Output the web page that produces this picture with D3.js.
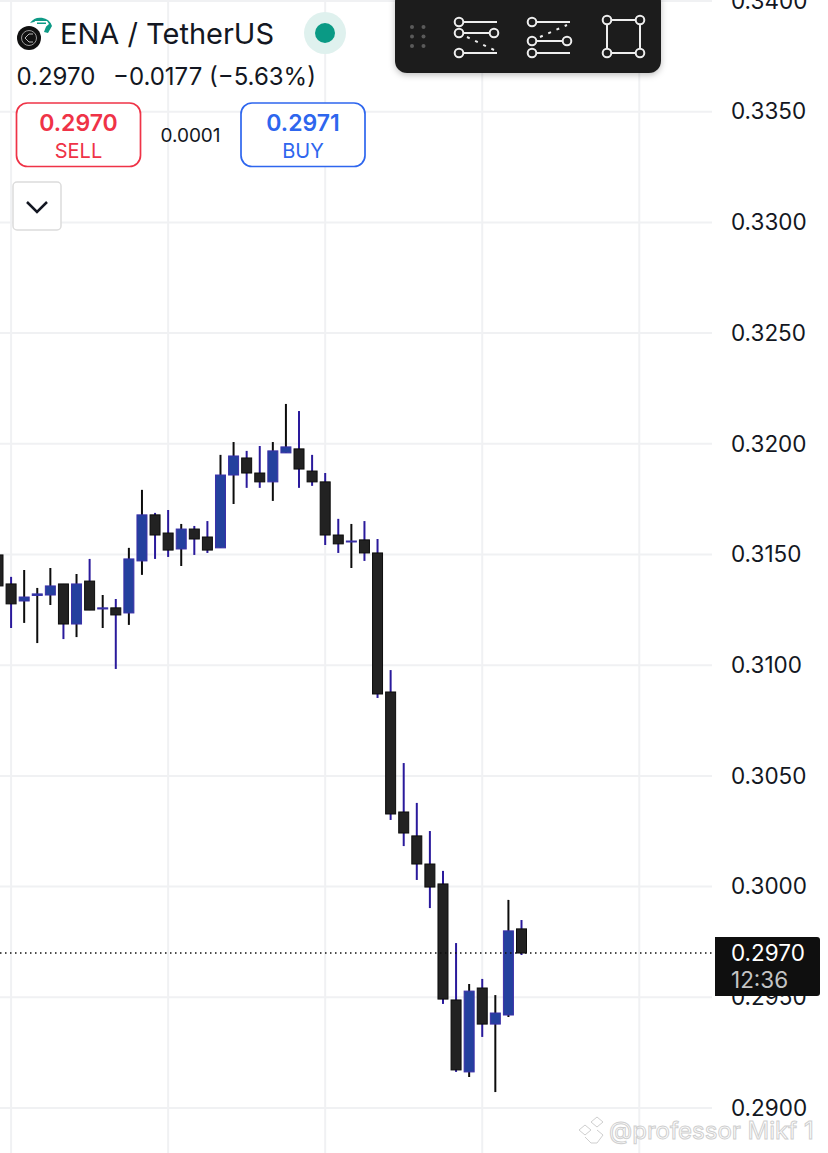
<!DOCTYPE html>
<html>
<head>
<meta charset="utf-8">
<title>ENA / TetherUS</title>
<script src="https://cdnjs.cloudflare.com/ajax/libs/d3/7.8.5/d3.min.js"></script>
<style>
html, body { margin: 0; padding: 0; background: #fff; }
svg { display: block; font-family: Inter, "Noto Sans", sans-serif; }
</style>
</head>
<body>
<div id="chart"></div>
<script>
// candle values
const opens = [0.31498,0.31367,0.31290,0.31315,0.31317,0.31367,0.31186,0.31380,0.31254,0.31259,0.31236,0.31471,0.31679,0.31597,0.31525,0.31615,0.31579,0.31530,0.31859,0.31936,0.31868,0.31828,0.31959,0.31977,0.31877,0.31828,0.31588,0.31557,0.31566,0.31507,0.30879,0.30337,0.30229,0.30102,0.30012,0.29488,0.29163,0.29542,0.29379,0.29420,0.29809];
const highs = [0.31498,0.31399,0.31430,0.31349,0.31439,0.31367,0.31412,0.31480,0.31317,0.31299,0.31530,0.31792,0.31688,0.31701,0.31638,0.31629,0.31651,0.31950,0.32008,0.31968,0.31990,0.32008,0.32180,0.32148,0.31950,0.31868,0.31661,0.31638,0.31651,0.31570,0.30978,0.30558,0.30378,0.30251,0.30071,0.29745,0.29560,0.29583,0.29510,0.29940,0.29849];
const lows = [0.31358,0.31168,0.31191,0.31100,0.31272,0.31118,0.31127,0.31249,0.31168,0.30983,0.31182,0.31408,0.31480,0.31489,0.31448,0.31498,0.31507,0.31530,0.31728,0.31801,0.31801,0.31742,0.31959,0.31801,0.31810,0.31543,0.31507,0.31439,0.31471,0.30852,0.30301,0.30183,0.30030,0.29903,0.29470,0.29163,0.29140,0.29321,0.29072,0.29411,0.29691];
const closes = [0.31358,0.31277,0.31308,0.31322,0.31358,0.31186,0.31367,0.31249,0.31259,0.31227,0.31480,0.31679,0.31588,0.31520,0.31615,0.31570,0.31520,0.31859,0.31945,0.31868,0.31828,0.31968,0.31986,0.31886,0.31828,0.31588,0.31548,0.31561,0.31507,0.30870,0.30328,0.30242,0.30102,0.29998,0.29492,0.29172,0.29528,0.29379,0.29429,0.29800,0.29700];

const priceTicks = [0.34,0.335,0.33,0.325,0.32,0.315,0.31,0.305,0.30,0.295,0.29];
const gridCandles = [1,13,25,37,49];
const lastPrice = 0.2970;

const W = 828, H = 1153, plotRight = 712;

const x = d3.scaleLinear().domain([0, 40]).range([-2, 521.5]);
const y = d3.scaleLinear().domain([0.29, 0.34]).range([1108, 1]);

const svg = d3.select("#chart").append("svg").attr("width", W).attr("height", H);

const defs = svg.append("defs");
const shadow = defs.append("filter").attr("id", "shadow").attr("x", "-10%").attr("y", "-20%").attr("width", "120%").attr("height", "150%");
shadow.append("feDropShadow").attr("dx", 0).attr("dy", 2).attr("stdDeviation", 3).attr("flood-color", "#000").attr("flood-opacity", 0.25);

// grid
svg.append("g").selectAll("line").data(priceTicks).enter().append("line")
	.attr("x1", 0).attr("x2", plotRight)
	.attr("y1", d => y(d)).attr("y2", d => y(d))
	.attr("stroke", "#f0f1f3").attr("stroke-width", 2);
svg.append("g").selectAll("line").data(gridCandles).enter().append("line")
	.attr("x1", d => x(d)).attr("x2", d => x(d))
	.attr("y1", 0).attr("y2", H)
	.attr("stroke", "#f0f1f3").attr("stroke-width", 2);

// price axis on the right
const yAxis = d3.axisRight(y).tickValues(priceTicks).tickFormat(d3.format(".4f")).tickSize(0).tickPadding(0);
const axisG = svg.append("g").attr("transform", "translate(731,0)").call(yAxis);
axisG.select(".domain").remove();
axisG.selectAll("text").attr("font-size", 22.5).attr("font-family", "Inter").attr("fill", "#131722");

// candles
const idx = d3.range(opens.length);
const isUp = i => closes[i] >= opens[i];
const candles = svg.append("g");
candles.selectAll("line").data(idx).enter().append("line")
	.attr("x1", i => x(i)).attr("x2", i => x(i))
	.attr("y1", i => y(highs[i])).attr("y2", i => y(lows[i]))
	.attr("stroke", i => isUp(i) ? "#0c0c0c" : "#2a1a9c")
	.attr("stroke-width", 2);
candles.selectAll("rect").data(idx).enter().append("rect")
	.attr("x", i => x(i) - 5)
	.attr("width", 10)
	.attr("y", i => y(Math.max(opens[i], closes[i])))
	.attr("height", i => Math.max(1, Math.abs(y(opens[i]) - y(closes[i]))))
	.attr("fill", i => isUp(i) ? "#24409e" : "#222222")
	.attr("stroke", i => isUp(i) ? "#3a2fa8" : "#0c0c0c")
	.attr("stroke-width", 1);

// last price line + tag
svg.append("line")
	.attr("x1", 0).attr("x2", 716)
	.attr("y1", y(lastPrice)).attr("y2", y(lastPrice))
	.attr("stroke", "#111").attr("stroke-width", 1.5).attr("stroke-dasharray", "1.5 3.5");
svg.append("path").attr("d", "M715,937H817a3,3 0 0 1 3,3V993a3,3 0 0 1 -3,3H715Z").attr("fill", "#0f0f0f");
svg.append("text").attr("x", 731).attr("y", 961).attr("font-size", 22.5).attr("fill", "#fff").text(d3.format(".4f")(lastPrice));
svg.append("text").attr("x", 731).attr("y", 988).attr("font-size", 22.5).attr("fill", "#c4c4c4").text("12:36");

// header
const head = svg.append("g");
head.append("path").attr("d", "M30,23 A12.5,12.5 0 0 1 52,26 L48,33 L44,32 L47,24 L38,21 Z").attr("fill", "#0e9a86");
head.append("path").attr("d", "M35,21H47L49,24L41,31L34,24Z").attr("fill", "#fff");
head.append("path").attr("d", "M37,22.5H46V24H37Z").attr("fill", "#0e9a86");
head.append("circle").attr("cx", 29).attr("cy", 38).attr("r", 12).attr("fill", "#111");
head.append("circle").attr("cx", 29).attr("cy", 38).attr("r", 7.5).attr("fill", "none").attr("stroke", "#999").attr("stroke-width", 1);
head.append("path").attr("d", "M25,38L29,34H33M25,38L29,42H33").attr("fill", "none").attr("stroke", "#bbb").attr("stroke-width", 1);
head.append("text").attr("x", 60).attr("y", 44).attr("font-size", 29).attr("fill", "#131722").text("ENA / TetherUS");
head.append("circle").attr("cx", 325).attr("cy", 33).attr("r", 21).attr("fill", "#dff1ee");
head.append("circle").attr("cx", 325).attr("cy", 33).attr("r", 10).attr("fill", "#0a9a85");
head.append("text").attr("x", 16.5).attr("y", 85).attr("font-size", 24).attr("fill", "#131722").text("0.2970");
head.append("text").attr("x", 113).attr("y", 85).attr("font-size", 24).attr("fill", "#131722").text("\u22120.0177 (\u22125.63%)");

function tradeBox(bx, price, label, col) {
	head.append("rect").attr("x", bx).attr("y", 103).attr("width", 124).attr("height", 63.5).attr("rx", 11)
		.attr("fill", "#fff").attr("stroke", col).attr("stroke-width", 1.7);
	head.append("text").attr("x", bx + 62).attr("y", 131).attr("text-anchor", "middle")
		.attr("font-size", 23).attr("font-weight", 600).attr("fill", col).text(price);
	head.append("text").attr("x", bx + 62).attr("y", 158).attr("text-anchor", "middle")
		.attr("font-size", 20).attr("fill", col).text(label);
}
tradeBox(16.5, "0.2970", "SELL", "#ef3347");
tradeBox(241, "0.2971", "BUY", "#2e66ee");
head.append("text").attr("x", 190.5).attr("y", 142).attr("text-anchor", "middle").attr("font-size", 19).attr("fill", "#131722").text("0.0001");

head.append("rect").attr("x", 13).attr("y", 182).attr("width", 48).attr("height", 48).attr("rx", 4)
	.attr("fill", "#fff").attr("stroke", "#dcdcdc").attr("stroke-width", 1.5);
head.append("path").attr("d", "M27,202L37,212L47,202").attr("fill", "none").attr("stroke", "#131722").attr("stroke-width", 2.5);

// drawing toolbar
const bar = svg.append("g");
bar.append("rect").attr("x", 395).attr("y", -10).attr("width", 266).attr("height", 83).attr("rx", 12)
	.attr("fill", "#1e1e1e").attr("filter", "url(#shadow)");
[412, 423.5].forEach(cx => [27, 36.5, 46].forEach(cy => {
	bar.append("circle").attr("cx", cx).attr("cy", cy).attr("r", 2).attr("fill", "#5a5a5a");
}));
const barLine = (d, dash) => bar.append("path").attr("d", d).attr("fill", "none")
	.attr("stroke", "#eee").attr("stroke-width", 2).attr("stroke-dasharray", dash || null);
const barDot = (cx, cy) => bar.append("circle").attr("cx", cx).attr("cy", cy).attr("r", 4.3)
	.attr("fill", "#1e1e1e").attr("stroke", "#eee").attr("stroke-width", 2);

barLine("M459,22H497"); barLine("M459,33H494"); barLine("M459,53H497");
barLine("M467,37L494,50", "3 6");
barDot(459, 22); barDot(459, 33); barDot(494, 33); barDot(459, 53);

barLine("M532,22H570"); barLine("M532,41H567"); barLine("M532,53H570");
barLine("M540,37L567,25", "3 6");
barDot(532, 22); barDot(532, 41); barDot(567, 41); barDot(532, 53);

barLine("M607,20H640V53H607Z");
barDot(607, 20); barDot(640, 20); barDot(607, 53); barDot(640, 53);

// watermark
const mark = svg.append("g").attr("fill", "none").attr("stroke", "#cfcfcf").attr("stroke-width", 1);
mark.append("path").attr("d", "M579,1130L585,1125L591,1130L585,1135ZM591,1122L597,1127L603,1122L597,1117ZM597,1130L603,1135L597,1143L591,1143L585,1137");
mark.append("text").attr("x", 609).attr("y", 1139).attr("font-size", 24).attr("fill", "#fff").attr("fill-opacity", 0.6).text("@professor Mikf 1");
</script>
</body>
</html>
